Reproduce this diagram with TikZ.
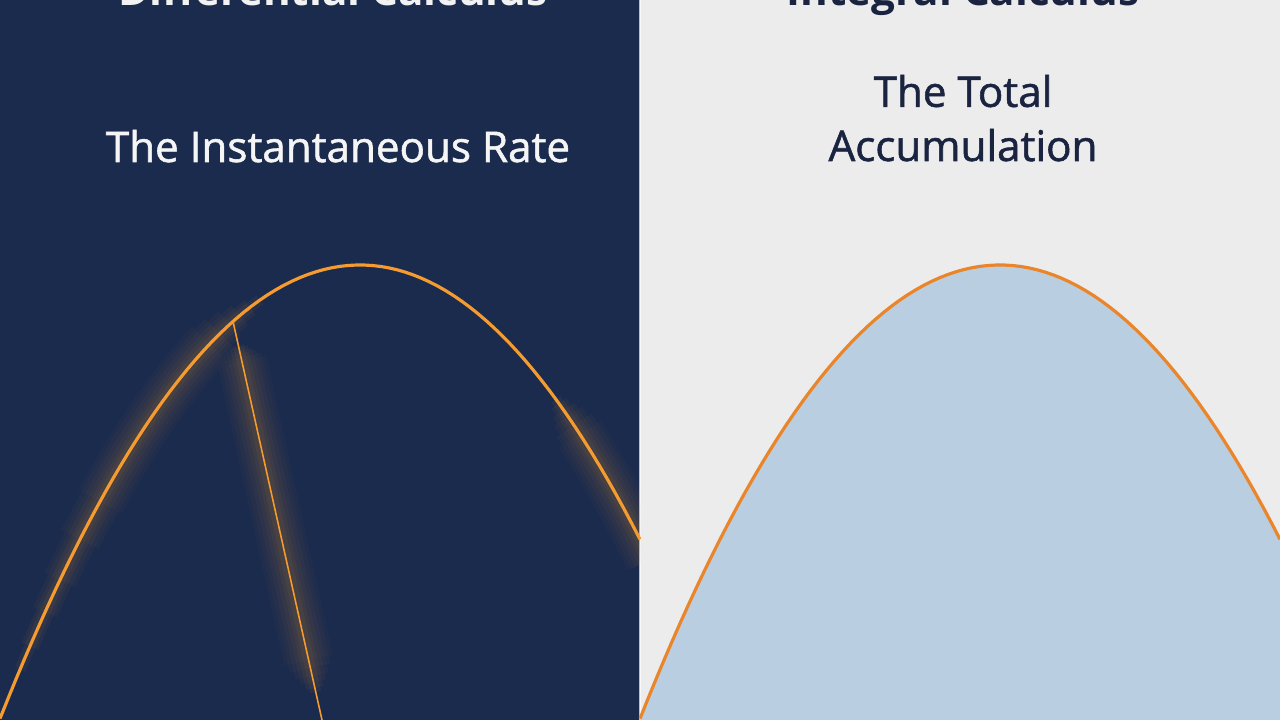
\documentclass[tikz,border=0pt]{standalone}
\usepackage{fontspec}
\setmainfont{Open Sans}
\newfontfamily\subfont[FakeBold=1.3]{Open Sans}
\usetikzlibrary{calc}
\definecolor{navybg}{HTML}{1B2B4D}
\definecolor{lightbg}{HTML}{ECECEC}
\definecolor{rateorange}{HTML}{F59B2F}
\definecolor{areaorange}{HTML}{EA852A}
\definecolor{areablue}{HTML}{B9CEE0}
\definecolor{inknavy}{HTML}{1A2440}
\tikzset{
  heading/.style={anchor=base, font=\bfseries\fontsize{12}{15}\selectfont},
  subheading/.style={anchor=base, align=center, font=\subfont\fontsize{12}{15.4}\selectfont},
}

\begin{document}
\begin{tikzpicture}
        \useasboundingbox (0,0) rectangle (12.8,7.2);
        \clip (0,0) rectangle (12.8,7.2);
        % Panels
        \fill[navybg] (0,0) rectangle (6.4,7.2);
        \fill[lightbg] (6.4,0) rectangle (12.8,7.2);
        \draw[white, opacity=0.7, line width=0.5pt] (6.4,0) -- (6.4,7.2);
        % Headings
        \node[heading, text=white!95!black] (DIFF) at (3.33,7.14) {Differential Calculus};
        \node[heading, text=inknavy] (INT) at (9.63,7.14) {Integral Calculus};
        \node[subheading, text=white!96!black] (RATE) at (3.38,5.58) {The Instantaneous Rate};
        \node[subheading, text=inknavy] (ACC) at (9.63,5.59) {The Total\\Accumulation};
        % Touching point and foot of the slope line
        \coordinate (touch) at (2.33,3.985);
        \coordinate (foot) at (3.22,0);
        % Soft glow on the rate side (wider layers are shorter)
        \begin{scope}
          \clip (0,0) rectangle (6.4,7.2);
          \foreach \w/\o/\a/\b in {0.5/0.025/1.0/2.1, 0.42/0.03/0.8/2.2, 0.34/0.035/0.6/2.3,
                                  0.26/0.04/0.45/2.4, 0.18/0.05/0.3/2.5, 0.11/0.06/0.2/2.6} {
            \draw[rateorange, line width=\w cm, opacity=\o]
              plot[domain=\a:\b, samples=40] (\x,{4.55-0.35*(\x-3.6)^2});
            \draw[rateorange, line width=\w cm, opacity=\o]
              plot[domain=5.5+0.3*\a:6.5, samples=20] (\x,{4.55-0.35*(\x-3.6)^2});
            \draw[rateorange, line width=\w cm, opacity=\o]
              ($(touch)!0.05+0.05*\a!(foot)$) -- ($(touch)!0.95-0.1*\a!(foot)$);
          }
        \end{scope}
        % Curve and slope line
        \draw[rateorange, line width=0.9pt]
          plot[domain=0:6.4, samples=80] (\x,{4.55-0.35*(\x-3.6)^2});
        \draw[rateorange, line width=0.45pt] (touch) -- (foot);
        % Area under the curve
        \fill[areablue] plot[domain=6.4:12.8, samples=80] (\x,{4.55-0.35*(\x-10)^2})
          -- (12.8,0) -- (6.4,0) -- cycle;
        \draw[areaorange, line width=0.9pt]
          plot[domain=6.4:12.8, samples=80] (\x,{4.55-0.35*(\x-10)^2});
      \end{tikzpicture}
\end{document}
